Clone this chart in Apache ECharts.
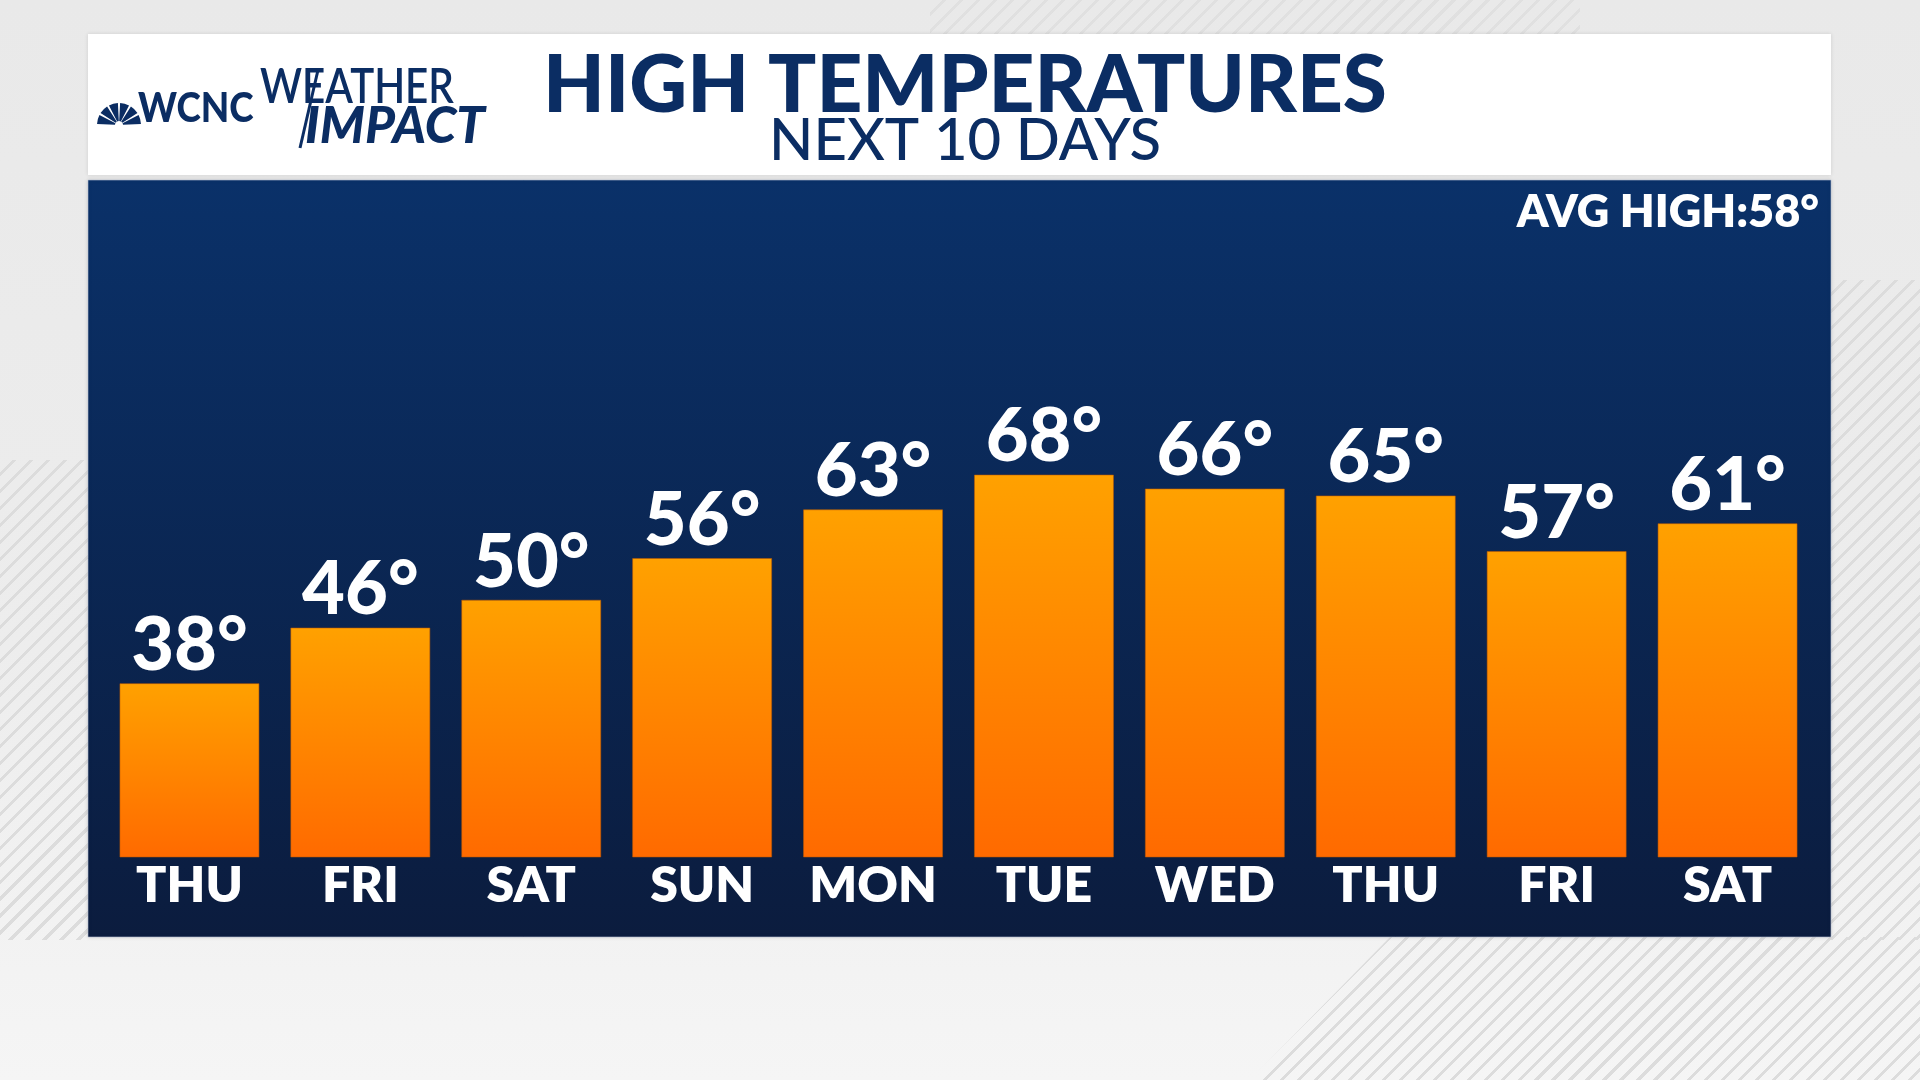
<!DOCTYPE html>
<html>
<head>
<meta charset="utf-8">
<script src="https://cdn.jsdelivr.net/npm/echarts@6/dist/echarts.min.js"></script>
<style>
  html, body { margin: 0; padding: 0; width: 1920px; height: 1080px; overflow: hidden; }
  body { background: linear-gradient(180deg, #e9e9e9 0%, #ededed 60%, #f5f5f5 100%); position: relative; }
  .stripes { position: absolute; background: repeating-linear-gradient(135deg, transparent 0px, transparent 9px, #dcdcdc 9px, #dcdcdc 12px); }
  #chart { position: absolute; left: 0; top: 0; width: 1920px; height: 1080px; }
</style>
</head>
<body>
<div class="stripes" style="left:0;top:460px;width:88px;height:480px;"></div>
<div class="stripes" style="left:1831px;top:280px;width:89px;height:660px;"></div>
<div class="stripes" style="left:930px;top:0;width:650px;height:34px;opacity:0.7;"></div>
<div class="stripes" style="left:1240px;top:937px;width:680px;height:143px;clip-path:polygon(150px 0, 680px 0, 680px 143px, 10px 143px);"></div>
<div id="chart"></div>
<script>
const days = ['THU', 'FRI', 'SAT', 'SUN', 'MON', 'TUE', 'WED', 'THU', 'FRI', 'SAT'];
const highs = [38, 46, 50, 56, 63, 68, 66, 65, 57, 61];
const avgHigh = 58;
const titleText = 'HIGH TEMPERATURES';
const subtitleText = 'NEXT 10 DAYS';

const navy = '#0b2d63';
const chart = echarts.init(document.getElementById('chart'), null, { renderer: 'canvas' });

// peacock feathers for the logo
const feathers = [];
for (let i = 0; i < 6; i++) {
  const a0 = Math.PI + i * Math.PI / 6 + 0.05;
  const a1 = Math.PI + (i + 1) * Math.PI / 6 - 0.05;
  feathers.push({
    type: 'sector',
    shape: { cx: 119, cy: 125, r0: 4, r: 22, startAngle: a0, endAngle: a1 },
    style: { fill: navy }
  });
}

const option = {
  animation: false,
  backgroundColor: 'transparent',
  title: [
    {
      text: titleText,
      left: 960, top: 41, textAlign: 'center',
      textStyle: { color: navy, fontFamily: 'Lato', fontWeight: 900, fontSize: 80 }
    },
    {
      text: subtitleText,
      left: 960, top: 107, textAlign: 'center',
      textStyle: { color: navy, fontFamily: 'Lato', fontWeight: 500, fontSize: 58 }
    },
    {
      text: 'AVG HIGH:' + avgHigh + '°',
      right: 96, top: 185,
      textStyle: { color: '#ffffff', fontFamily: 'Lato', fontWeight: 800, fontSize: 45 }
    }
  ],
  graphic: {
    elements: [
      {
        type: 'rect', z: -10,
        shape: { x: 88, y: 34, width: 1743, height: 141 },
        style: { fill: '#ffffff', shadowBlur: 4, shadowColor: 'rgba(0,0,0,0.12)' }
      },
      {
        type: 'rect', z: -10,
        shape: { x: 88, y: 180, width: 1743, height: 757 },
        style: {
          fill: new echarts.graphic.LinearGradient(0, 0, 0, 1, [
            { offset: 0, color: '#0a3169' },
            { offset: 1, color: '#0b1c3e' }
          ]),
          stroke: 'rgba(180,190,210,0.6)', lineWidth: 1,
          shadowBlur: 4, shadowColor: 'rgba(0,0,0,0.15)'
        }
      },
      { type: 'group', z: 5, children: feathers },
      {
        type: 'text', z: 5, x: 138, y: 88, scaleX: 0.9,
        style: { text: 'WCNC', fill: navy, font: '900 41px Lato' }
      },
      {
        type: 'text', z: 5, x: 260, y: 64, scaleX: 0.84,
        style: { text: 'WEATHER', fill: navy, font: '600 48px Lato' }
      },
      {
        type: 'text', z: 5, x: 305, y: 101,
        style: { text: 'IMPACT', fill: navy, font: 'italic 900 51px Lato' }
      },
      {
        type: 'line', z: 5,
        shape: { x1: 318, y1: 70, x2: 300, y2: 148 },
        style: { stroke: navy, lineWidth: 3 }
      }
    ]
  },
  grid: { left: 104, width: 1709, top: 252, height: 605 },
  xAxis: {
    type: 'category',
    data: days,
    axisLine: { show: false },
    axisTick: { show: false },
    axisLabel: {
      color: '#ffffff', fontFamily: 'Lato', fontWeight: 800, fontSize: 50, margin: 4
    }
  },
  yAxis: {
    type: 'value', min: 13, max: 100, show: false,
    splitLine: { show: false }
  },
  series: [{
    type: 'bar',
    data: highs,
    barWidth: 140,
    itemStyle: {
      color: new echarts.graphic.LinearGradient(0, 0, 0, 1, [
        { offset: 0, color: '#ffa100' },
        { offset: 1, color: '#ff6a00' }
      ]),
      borderColor: 'rgba(190,90,0,0.55)',
      borderWidth: 1
    },
    label: {
      show: true, position: 'top', distance: 0,
      formatter: p => p.value + '°',
      color: '#ffffff', fontFamily: 'Lato', fontWeight: 900, fontSize: 74
    }
  }]
};
chart.setOption(option);
</script>
</body>
</html>
